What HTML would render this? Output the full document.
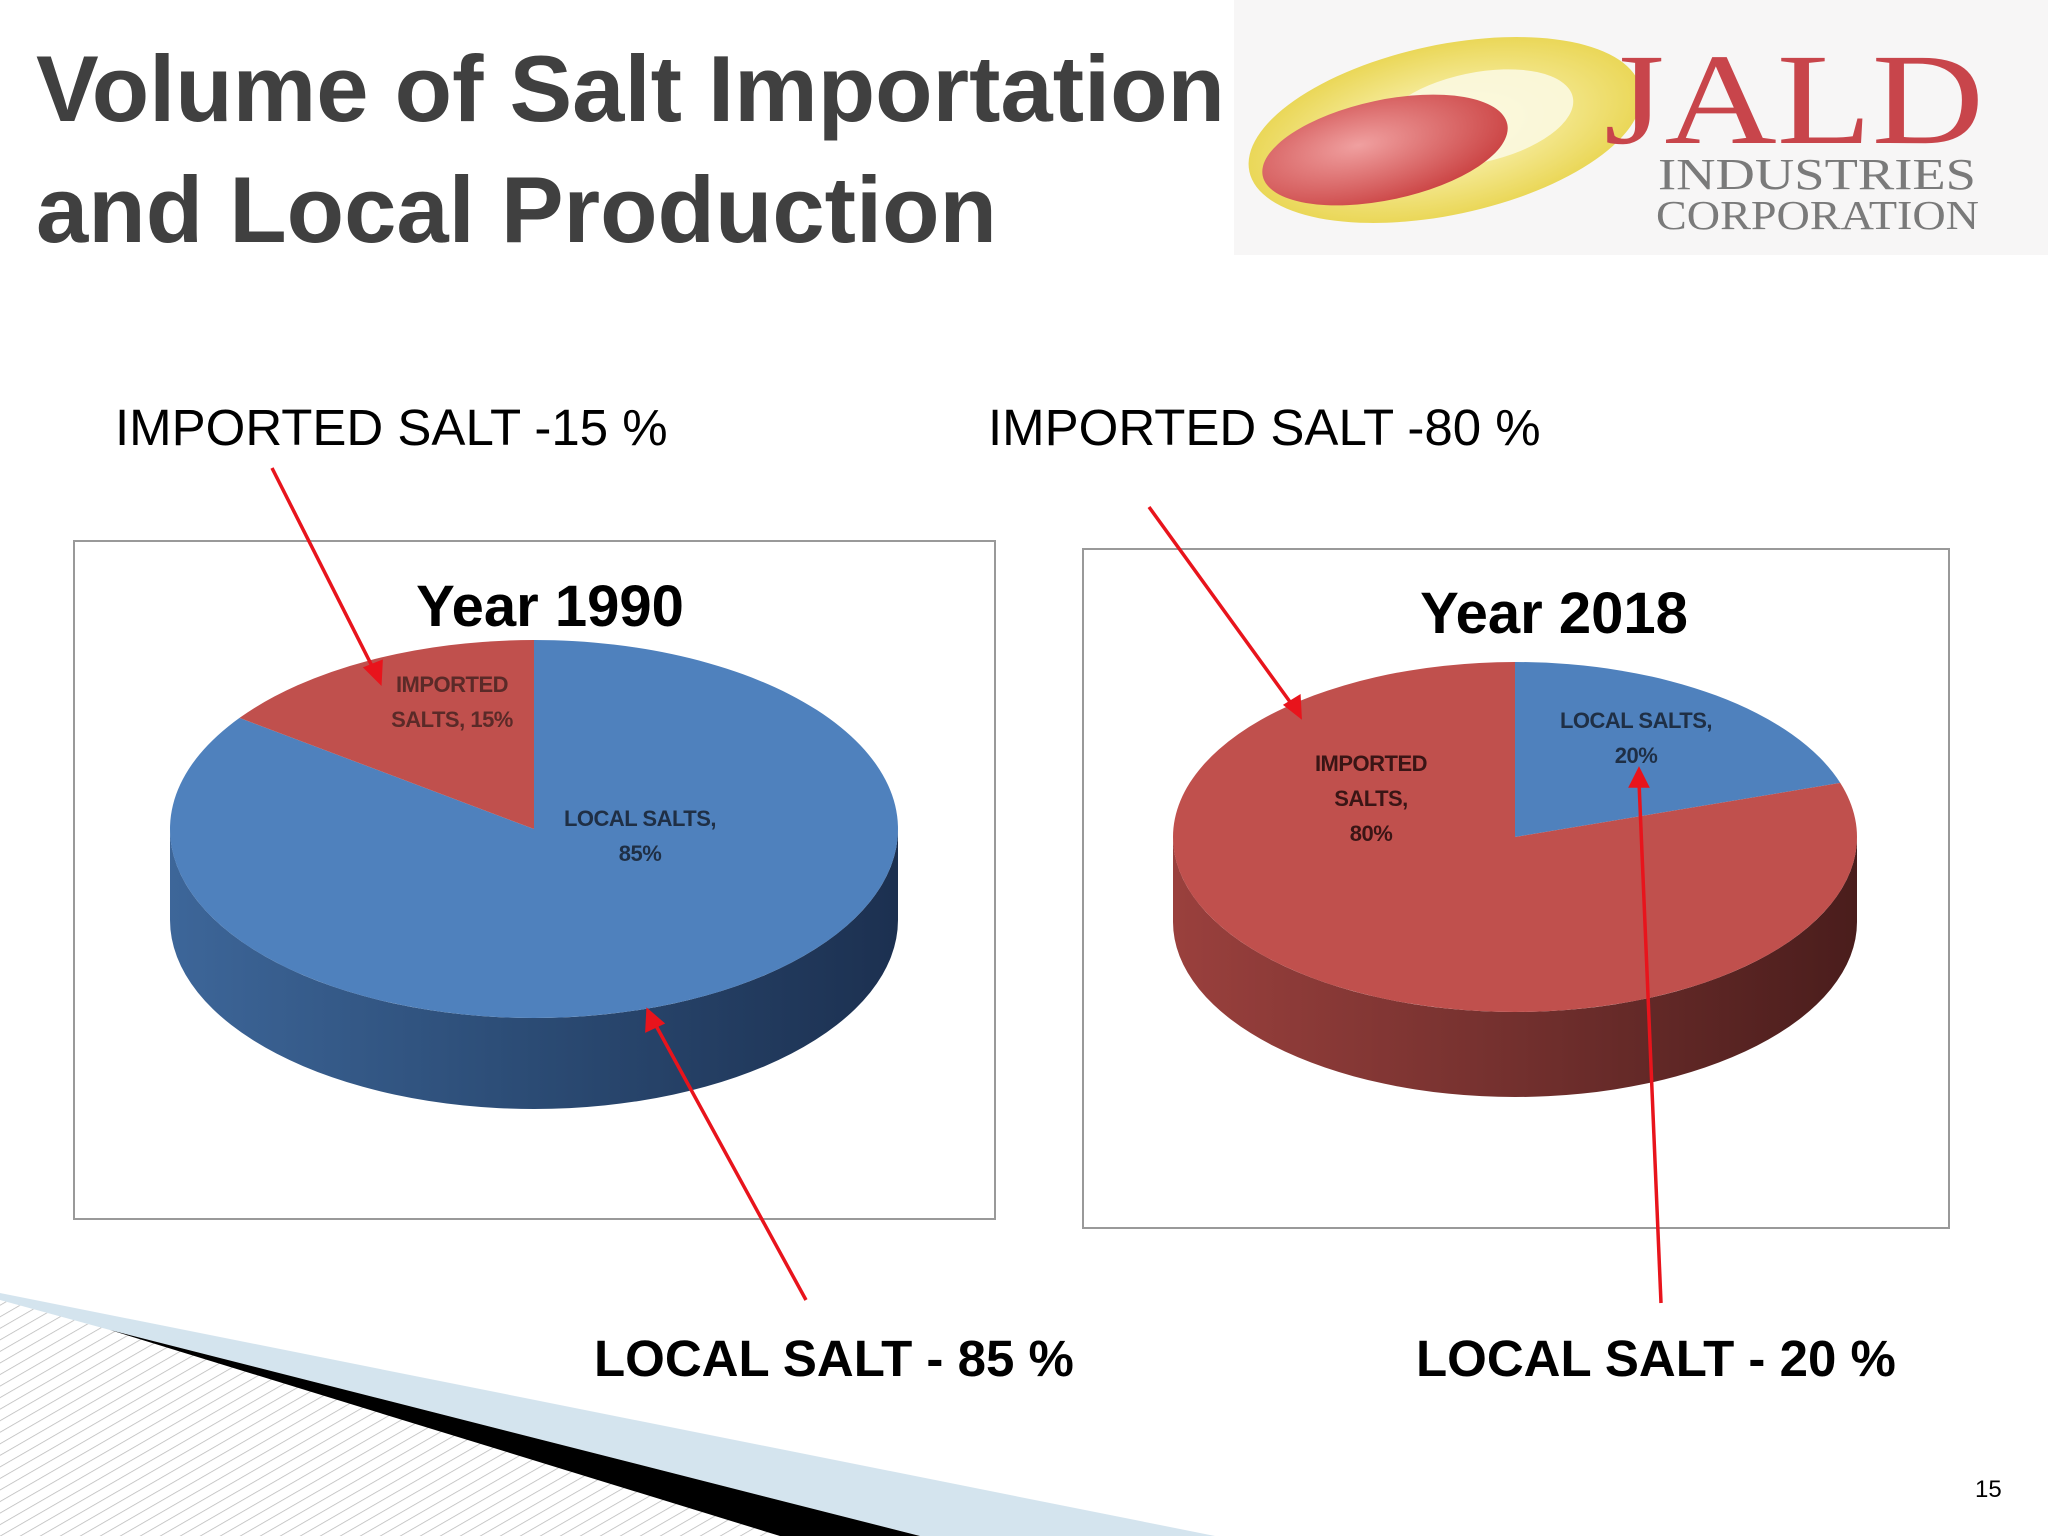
<!DOCTYPE html>
<html><head><meta charset="utf-8">
<style>
html,body{margin:0;padding:0;background:#fff;}
body{width:2048px;height:1536px;position:relative;overflow:hidden;font-family:"Liberation Sans",sans-serif;}
.t{position:absolute;white-space:nowrap;}
</style></head>
<body>
<svg width="2048" height="1536" style="position:absolute;left:0;top:0">
<defs>
<linearGradient id="gBlue" x1="0" x2="1" y1="0" y2="0">
<stop offset="0" stop-color="#3d6699"/><stop offset="0.5" stop-color="#2b4b74"/><stop offset="1" stop-color="#1c3050"/></linearGradient>
<linearGradient id="gRed" x1="0" x2="1" y1="0" y2="0">
<stop offset="0" stop-color="#9a403d"/><stop offset="0.5" stop-color="#73302e"/><stop offset="1" stop-color="#4a1d1c"/></linearGradient>
<pattern id="hatch" width="10" height="10" patternUnits="userSpaceOnUse" patternTransform="rotate(60)">
<line x1="0" y1="0" x2="0" y2="10" stroke="#b8b8b8" stroke-width="1.5"/></pattern>
<radialGradient id="gLogoRed" cx="0.4" cy="0.4" r="0.7"><stop offset="0" stop-color="#f0a0a0"/><stop offset="1" stop-color="#c83c3c"/></radialGradient>
<radialGradient id="gLogoGold" cx="0.5" cy="0.5" r="0.6"><stop offset="0" stop-color="#fffbd0"/><stop offset="1" stop-color="#e6d040"/></radialGradient>
</defs>
<g>
<rect x="1234" y="0" width="814" height="255" fill="#f7f6f6"/>
<ellipse cx="1445" cy="130" rx="200" ry="85" fill="url(#gLogoGold)" transform="rotate(-12 1445 130)"/>
<ellipse cx="1475" cy="118" rx="100" ry="45" fill="#fbf8e0" transform="rotate(-12 1475 118)" opacity="0.9"/>
<ellipse cx="1385" cy="150" rx="125" ry="50" fill="url(#gLogoRed)" transform="rotate(-12 1385 150)"/>
<text x="1604" y="143" font-family="Liberation Serif,serif" font-size="130" fill="#c8454b" textLength="380" lengthAdjust="spacingAndGlyphs">JALD</text>
<text x="1658" y="189" font-family="Liberation Serif,serif" font-size="44" fill="#7a7a7a" textLength="318" lengthAdjust="spacingAndGlyphs">INDUSTRIES</text>
<text x="1656" y="229" font-family="Liberation Serif,serif" font-size="41" fill="#7a7a7a" textLength="323" lengthAdjust="spacingAndGlyphs">CORPORATION</text>
</g>
<g>
<polygon points="0,1300 0,1536 800,1536 110,1330" fill="url(#hatch)"/>
<polygon points="0,1293 1215,1536 920,1536 110,1330 0,1300" fill="#d4e4ee"/>
<polygon points="110,1330 920,1536 780,1536" fill="#000"/>
</g>
<rect x="74" y="541" width="921" height="678" fill="#fff" stroke="#999" stroke-width="2"/>
<rect x="1083" y="549" width="866" height="679" fill="#fff" stroke="#999" stroke-width="2"/>
<g id="pies"></g>
<g stroke="#e8141c" stroke-width="3.5" fill="#e8141c">
<line x1="272" y1="468" x2="374" y2="670"/><polygon points="380,682 366,668 381,662"/>
<line x1="806" y1="1300" x2="654" y2="1022"/><polygon points="648,1011 662,1023 647,1030"/>
<line x1="1149" y1="507" x2="1293" y2="706"/><polygon points="1300,716 1286,705 1299,697"/>
<line x1="1661" y1="1303" x2="1639" y2="782"/><polygon points="1639,770 1647,786 1631,786"/>
</g>
</svg>

<div class="t" style="left:36px;top:28px;font-family:'Liberation Sans',sans-serif;font-weight:bold;font-size:94px;line-height:121px;color:#404040;">Volume of Salt Importation<br>and Local Production</div>

<div class="t" style="left:115px;top:398px;font-size:51px;color:#000;">IMPORTED SALT -15 %</div>
<div class="t" style="left:988px;top:398px;font-size:51px;color:#000;">IMPORTED SALT -80 %</div>
<div class="t" style="left:594px;top:1329px;font-size:51px;font-weight:bold;color:#000;">LOCAL SALT - 85 %</div>
<div class="t" style="left:1416px;top:1329px;font-size:51px;font-weight:bold;color:#000;">LOCAL SALT - 20 %</div>
<div class="t" style="left:1975px;top:1476px;font-size:24px;color:#000;">15</div>

<script>
const categories = ['LOCAL SALTS', 'IMPORTED SALTS'];
const values1990 = [85, 15];
const values2018 = [20, 80];
const pieTitles = ['Year 1990', 'Year 2018'];

const NS = 'http://www.w3.org/2000/svg';
const root = document.getElementById('pies');
const topCol = ['#4f81bd', '#c0504d'];
const sideCol = ['url(#gBlue)', 'url(#gRed)'];

function pt(g, th) { const r = th * Math.PI / 180; return [g.cx + g.rx * Math.sin(r), g.cy - g.ry * Math.cos(r)]; }
function mk(tag, attrs) { const e = document.createElementNS(NS, tag); for (const k in attrs) e.setAttribute(k, attrs[k]); return e; }

function drawPie(g, vals, title, labels, idx) {
  const grp = mk('g', {});
  
  
  root.appendChild(grp);
  const total = vals.reduce((a, b) => a + b, 0);
  let a = 0; const ranges = [];
  vals.forEach(v => { const b = a + v / total * 360; ranges.push([a, b]); a = b; });
  ranges.forEach((r, i) => {
    const s = Math.max(r[0], 90), e = Math.min(r[1], 270);
    if (e <= s) return;
    const p1 = pt(g, s), p2 = pt(g, e);
    const d = `M${p1[0]},${p1[1]} A${g.rx},${g.ry} 0 0 1 ${p2[0]},${p2[1]} L${p2[0]},${p2[1] + g.depth} A${g.rx},${g.ry} 0 0 0 ${p1[0]},${p1[1] + g.depth} Z`;
    const p = mk('path', { d: d, fill: sideCol[i] });
    
    
    grp.appendChild(p);
  });
  ranges.forEach((r, i) => {
    const p1 = pt(g, r[0]), p2 = pt(g, r[1]);
    const large = (r[1] - r[0]) > 180 ? 1 : 0;
    const d = `M${g.cx},${g.cy} L${p1[0]},${p1[1]} A${g.rx},${g.ry} 0 ${large} 1 ${p2[0]},${p2[1]} Z`;
    const p = mk('path', { d: d, fill: topCol[i] });
    
    
    grp.appendChild(p);
  });
  const t = mk('text', { x: g.cx + g.tdx, y: g.ty, 'text-anchor': 'middle', 'font-size': 58, 'font-weight': 'bold', 'font-family': 'Liberation Sans,sans-serif', fill: '#000' });
  t.textContent = title;
  
  
  grp.appendChild(t);
  labels.forEach((L, i) => {
    L.lines.forEach((ln, j) => {
      const tx = mk('text', { x: L.x, y: L.y + j * 35, 'text-anchor': 'middle', 'font-size': 22, 'font-weight': 'bold', 'font-family': 'Liberation Sans,sans-serif', fill: L.c, 'letter-spacing': '-0.5' });
      tx.textContent = ln;
      
      
      grp.appendChild(tx);
    });
  });
}

drawPie({ cx: 534, cy: 829, rx: 364, ry: 189, depth: 91, tdx: 16, ty: 626 }, values1990, pieTitles[0], [
  { x: 452, y: 692, lines: ['IMPORTED', 'SALTS, ' + values1990[1] + '%'], c: '#5a2a28' },
  { x: 640, y: 826, lines: ['LOCAL SALTS,', values1990[0] + '%'], c: '#1f2f45' }
], 1990);
drawPie({ cx: 1515, cy: 837, rx: 342, ry: 175, depth: 85, tdx: 39, ty: 633 }, values2018, pieTitles[1], [
  { x: 1371, y: 771, lines: ['IMPORTED', 'SALTS,', values2018[1] + '%'], c: '#3a1515' },
  { x: 1636, y: 728, lines: ['LOCAL SALTS,', values2018[0] + '%'], c: '#1f2f45' }
], 2018);
</script>
</body></html>
